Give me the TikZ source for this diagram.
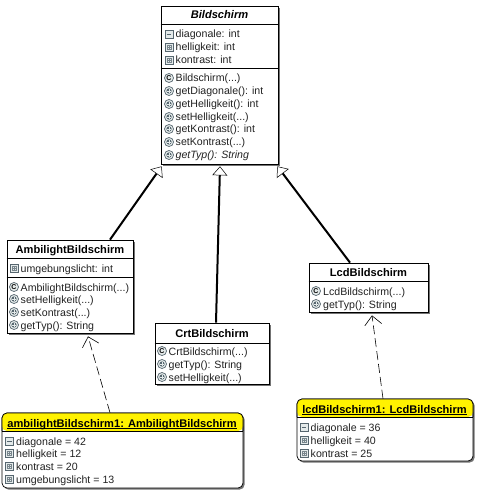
\documentclass[tikz,border=0pt]{standalone}
\usepackage{xcolor}
\usepackage{fontspec}
\setmainfont{Liberation Sans}
\usepackage{tikz}
\usetikzlibrary{arrows.meta,shadows}
\definecolor{iconline}{HTML}{56666f}
\definecolor{iconbg}{HTML}{e4eaea}
\definecolor{rowtext}{HTML}{222222}
\newcommand{\objname}[1]{\setbox0=\hbox{#1}\rlap{\copy0}\rule[-1.7pt]{\wd0}{0.8pt}}
\tikzset{
  classbox/.style={draw=black, fill=white, inner sep=0pt, line width=0.7pt,
    drop shadow={shadow xshift=1.6pt, shadow yshift=-1.6pt, fill=black!55, opacity=1}},
  objectbox/.style={classbox, rounded corners=5pt},
  rowtxt/.style={anchor=west, inner sep=0pt, text height=8pt, text depth=0pt, text=rowtext, font=\fontsize{10.6}{12}\selectfont},
  titletxt/.style={inner sep=0pt, text height=8pt, text depth=0pt, font=\fontsize{11.1}{12}\selectfont\bfseries},
  extends/.style={line width=2pt, -{Triangle[open, fill=white, line width=0.5pt, length=9pt, width=15pt]}},
  instanceof/.style={line width=0.6pt, dash pattern=on 9pt off 4pt, -{Straight Barb[length=9pt, width=17pt, line width=0.6pt]}},
  field/.pic={
    \draw[iconline, fill=iconbg, line width=0.6pt] (-4,-4) rectangle (4,4);
    \draw[iconline, line width=0.8pt] (-2.2,0) -- (2.2,0);
  },
  fieldgrid/.pic={
    \draw[iconline, fill=iconbg, line width=0.6pt] (-4,-4) rectangle (4,4);
    \draw[iconline!80, line width=0.35pt] (-2,-2) rectangle (2,2) (-2,0) -- (2,0) (0,-2) -- (0,2);
  },
  method/.pic={
    \draw[iconline, fill=iconbg, line width=0.7pt] (0,0) circle (4.5);
    \fill[iconline] (0,0) circle (2.6);
    \draw[iconbg, line width=0.35pt] (-1.8,0) -- (1.8,0) (0,-1.8) -- (0,1.8);
  },
  ctor/.pic={
    \draw[iconline, fill=iconbg, line width=0.7pt] (0,0) circle (4.5);
    \node[inner sep=0pt, font=\fontsize{7}{7}\selectfont\bfseries] (ctorc) at (0,0) {C};
  }
}

\begin{document}
\begin{tikzpicture}[x=1pt, y=-1pt]
  \useasboundingbox (0,0) rectangle (478,494);

  % Bildschirm
  \node[classbox, minimum width=117pt, minimum height=158pt] (bildschirm) at (219.5,85) {};
  \draw (bildschirm.north west |- 0,24) -- (bildschirm.north east |- 0,24);
  \draw (bildschirm.north west |- 0,68) -- (bildschirm.north east |- 0,68);
  \node[titletxt] (bildschirmtitle) at (219.5,15) {\itshape Bildschirm};
  \foreach \y/\kind/\txt in {34/field/{diagonale: int}, 47/fieldgrid/{helligkeit: int}, 60/fieldgrid/{kontrast: int},
      78/ctor/{Bildschirm(...)}, 91/method/{getDiagonale(): int}, 104/method/{getHelligkeit(): int},
      117/method/{setHelligkeit(...)}, 129/method/{getKontrast(): int}, 142/method/{setKontrast(...)}} {
    \pic at (169,\y) {\kind};
    \node[rowtxt] (bild\y) at (175.5,\y) {\txt};
  }
  \pic at (169,155) {method};
  \node[rowtxt] (bild155) at (175.5,155) {\itshape getTyp(): String};

  % AmbilightBildschirm
  \node[classbox, minimum width=126pt, minimum height=93pt] (ambilight) at (70,286.5) {};
  \draw (ambilight.north west |- 0,258) -- (ambilight.north east |- 0,258);
  \draw (ambilight.north west |- 0,277) -- (ambilight.north east |- 0,277);
  \node[titletxt] (ambilighttitle) at (70,249) {AmbilightBildschirm};
  \foreach \y/\kind/\txt in {268/fieldgrid/{umgebungslicht: int}, 287/ctor/{AmbilightBildschirm(...)},
      299/method/{setHelligkeit(...)}, 312/method/{setKontrast(...)}, 325/method/{getTyp(): String}} {
    \pic at (14,\y) {\kind};
    \node[rowtxt] (amb\y) at (20.5,\y) {\txt};
  }

  % CrtBildschirm
  \node[classbox, minimum width=114pt, minimum height=61pt] (crt) at (212,353.5) {};
  \draw (crt.north west |- 0,343) -- (crt.north east |- 0,343);
  \node[titletxt] (crttitle) at (212,333) {CrtBildschirm};
  \foreach \y/\kind/\txt in {351/ctor/{CrtBildschirm(...)}, 364/method/{getTyp(): String}, 377/method/{setHelligkeit(...)}} {
    \pic at (162,\y) {\kind};
    \node[rowtxt] (crt\y) at (168.5,\y) {\txt};
  }

  % LcdBildschirm
  \node[classbox, minimum width=119pt, minimum height=49pt] (lcd) at (368.5,287.5) {};
  \draw (lcd.north west |- 0,281) -- (lcd.north east |- 0,281);
  \node[titletxt] (lcdtitle) at (368.5,272) {LcdBildschirm};
  \foreach \y/\kind/\txt in {291/ctor/{LcdBildschirm(...)}, 304/method/{getTyp(): String}} {
    \pic at (316,\y) {\kind};
    \node[rowtxt] (lcd\y) at (323,\y) {\txt};
  }

  % ambilightBildschirm1
  \node[objectbox, minimum width=241pt, minimum height=75pt] (ambilightobj) at (122.5,450.5) {};
  \fill[yellow, rounded corners=5pt] (2,431) -- (2,413) -- (243,413) -- (243,431) -- cycle;
  \draw (ambilightobj.north west |- 0,431) -- (ambilightobj.north east |- 0,431);
  \draw[rounded corners=5pt, line width=0.7pt] (2,431) -- (2,413) -- (243,413) -- (243,431);
  \node[titletxt] (ambilightobjtitle) at (122,423) {\objname{ambilightBildschirm1: AmbilightBildschirm}};
  \foreach \y/\kind/\txt in {441/field/{diagonale = 42}, 453/fieldgrid/{helligkeit = 12}, 466/fieldgrid/{kontrast = 20}, 479/fieldgrid/{umgebungslicht = 13}} {
    \pic at (9.5,\y) {\kind};
    \node[rowtxt] (ambobj\y) at (16,\y) {\txt};
  }

  % lcdBildschirm1
  \node[objectbox, minimum width=176pt, minimum height=62pt] (lcdobj) at (385,430) {};
  \fill[yellow, rounded corners=5pt] (297,417) -- (297,399) -- (473,399) -- (473,417) -- cycle;
  \draw (lcdobj.north west |- 0,417) -- (lcdobj.north east |- 0,417);
  \draw[rounded corners=5pt, line width=0.7pt] (297,417) -- (297,399) -- (473,399) -- (473,417);
  \node[titletxt] (lcdobjtitle) at (384.5,409) {\objname{lcdBildschirm1: LcdBildschirm}};
  \foreach \y/\kind/\txt in {427/field/{diagonale = 36}, 440/fieldgrid/{helligkeit = 40}, 453/fieldgrid/{kontrast = 25}} {
    \pic at (304,\y) {\kind};
    \node[rowtxt] (lcdobj\y) at (310.5,\y) {\txt};
  }

  % Vererbung
  \draw[extends] ([xshift=40pt]ambilight.north) -- ([xshift=1pt,yshift=-2pt]bildschirm.south west);
  \draw[extends] ([xshift=4pt]crt.north) -- ([xshift=0.5pt,yshift=-2pt]bildschirm.south);
  \draw[extends] ([xshift=-18.5pt]lcd.north) -- ([xshift=-1pt,yshift=-2pt]bildschirm.south east);

  % Instanzen
  \draw[instanceof] ([xshift=-12.5pt]ambilightobj.north) -- ([xshift=18pt,yshift=-3pt]ambilight.south);
  \draw[instanceof] ([xshift=-2pt]lcdobj.north) -- ([xshift=3.5pt,yshift=-3pt]lcd.south);
\end{tikzpicture}
\end{document}
